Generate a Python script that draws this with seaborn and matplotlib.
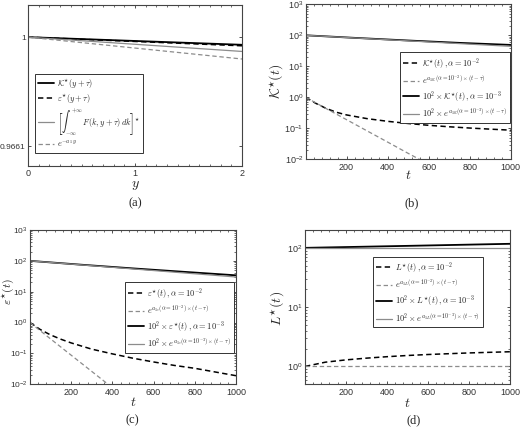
import numpy as np
import pandas as pd
import matplotlib
matplotlib.use("Agg")
import matplotlib.pyplot as plt
import seaborn as sns
from matplotlib.ticker import FixedLocator, FuncFormatter, AutoMinorLocator, LogLocator, NullFormatter

# ---------------- data ----------------
# panel (a)
y_a = [0.0, 1.0, 2.0]
K_a = [1.0, 0.99881, 0.99762]
eps_a = [1.0, 0.99866, 0.99731]
F_a = [1.0, 0.99778, 0.99555]
exp_a = [1.0, 0.99660, 0.99320]

# panel (b)
t_b_dash = [1, 50, 100, 150, 200, 300, 400, 500, 600, 700, 800, 900, 1000]
K_b_a2 = [1.0, 0.64, 0.44, 0.33, 0.27, 0.205, 0.168, 0.143, 0.125, 0.112, 0.102, 0.094, 0.087]
t_b_exp = [1, 100, 200, 300, 400, 500, 600]
exp_b_a2 = [1.0, 0.435, 0.19, 0.0826, 0.036, 0.0156, 0.0069]
t_b_sol = [1, 250, 500, 750, 1000]
K_b_a3 = [100, 82, 68, 57, 49]
exp_b_a3 = [100, 81.4, 66.3, 54.0, 44.0]

# panel (c)
t_c_dash = [1, 50, 100, 150, 200, 300, 400, 500, 600, 700, 800, 900, 1000]
eps_c_a2 = [1.0, 0.6, 0.4, 0.29, 0.22, 0.138, 0.097, 0.07, 0.053, 0.041, 0.033, 0.025, 0.019]
t_c_exp = [1, 100, 200, 300, 400]
exp_c_a2 = [1.0, 0.298, 0.0885, 0.0263, 0.0078]
t_c_sol = [1, 250, 500, 750, 1000]
eps_c_a3 = [100, 75, 57, 44, 34]
exp_c_a3 = [100, 74, 54.8, 40.5, 30]

# panel (d)
t_d_dash = [1, 100, 200, 300, 400, 500, 600, 700, 800, 900, 1000]
L_d_a2 = [1.0, 1.18, 1.29, 1.38, 1.46, 1.53, 1.59, 1.64, 1.69, 1.73, 1.77]
t_d_flat = [1, 1000]
exp_d_a2 = [1.0, 1.0]
t_d_sol = [1, 500, 1000]
L_d_a3 = [100, 108, 117]
exp_d_a3 = [100, 100]

captions = ["(a)", "(b)", "(c)", "(d)"]

# ---------------- style ----------------
sns.set_theme(style="ticks")
plt.rcParams["font.family"] = ["Liberation Sans", "DejaVu Sans"]
plt.rcParams["mathtext.fontset"] = "cm"
plt.rcParams["axes.linewidth"] = 0.8
plt.rcParams["axes.edgecolor"] = "#444444"
for k in ["xtick", "ytick"]:
    plt.rcParams[f"{k}.direction"] = "in"
    plt.rcParams[f"{k}.major.size"] = 2.5
    plt.rcParams[f"{k}.minor.size"] = 1.3
    plt.rcParams[f"{k}.major.width"] = 0.6
    plt.rcParams[f"{k}.minor.width"] = 0.5
    plt.rcParams[f"{k}.labelsize"] = 6.5
    plt.rcParams[f"{k}.color"] = "#333333"
plt.rcParams["xtick.major.pad"] = 2.5
plt.rcParams["ytick.major.pad"] = 1.6
plt.rcParams["xtick.top"] = True
plt.rcParams["ytick.right"] = True

GRAY = "#8c8c8c"
fig = plt.figure(figsize=(5.2, 4.3), dpi=100)
W, H = 520.0, 430.0

def box(l, r, t, b):
    return [l / W, 1 - b / H, (r - l) / W, (b - t) / H]

ax_a = fig.add_axes(box(28, 242, 5, 165.7))
ax_b = fig.add_axes(box(305.7, 510.7, 4.3, 159.3))
ax_c = fig.add_axes(box(30, 236, 230, 384.3))
ax_d = fig.add_axes(box(305, 510, 230, 384.3))

def line(ax, x, y, color, ls, lw, label):
    sns.lineplot(x=x, y=y, ax=ax, color=color, linestyle=ls, linewidth=lw,
                 label=label, legend=False, estimator=None, sort=False)

DASH = (0, (3.5, 2.2))

# ---- (a) ----
line(ax_a, y_a, K_a, "black", "-", 1.3, r"$\mathcal{K}^{\star}(y+\tau)$")
line(ax_a, y_a, eps_a, "black", DASH, 1.1, r"$\varepsilon^{\star}(y+\tau)$")
line(ax_a, y_a, F_a, GRAY, "-", 0.9,
     r"$\left[\int_{-\infty}^{+\infty}\,F(k,y+\tau)\,dk\right]^{\star}$")
line(ax_a, y_a, exp_a, GRAY, DASH, 0.9, r"$e^{-a_1\,y}$")
ax_a.set_xlim(0, 2)
ax_a.set_ylim(0.96, 1.01)
ax_a.xaxis.set_major_locator(FixedLocator([0, 1, 2]))
ax_a.xaxis.set_major_formatter(FuncFormatter(lambda v, p: f"{v:g}"))
ax_a.yaxis.set_major_locator(FixedLocator([0.9661, 1.0]))
ax_a.yaxis.set_major_formatter(FuncFormatter(lambda v, p: "1" if abs(v - 1) < 1e-9 else "0.9661"))
ax_a.tick_params(axis="y", labelsize=6)
ax_a.xaxis.set_minor_locator(AutoMinorLocator(10))
ax_a.set_xlabel(r"$y$", fontsize=10, labelpad=0)
ax_a.xaxis.set_label_coords(0.5, -0.075)
ax_a.set_ylabel("")

def logfmt(v, p):
    e = int(round(np.log10(v)))
    return r"$\mathregular{10^{%d}}$" % e

def setup_t(ax, ylim, ylabel, lab_x, lab_y, xlab_y, ysize=10):
    ax.set_yscale("log")
    ax.set_xlim(1, 1000)
    ax.set_ylim(*ylim)
    ax.xaxis.set_major_locator(FixedLocator([200, 400, 600, 800, 1000]))
    ax.xaxis.set_major_formatter(FuncFormatter(lambda v, p: f"{v:g}"))
    ax.xaxis.set_minor_locator(AutoMinorLocator(5))
    ax.yaxis.set_major_locator(LogLocator(base=10, numticks=10))
    ax.yaxis.set_major_formatter(FuncFormatter(logfmt))
    ax.yaxis.set_minor_locator(LogLocator(base=10, subs=np.arange(2, 10), numticks=20))
    ax.yaxis.set_minor_formatter(NullFormatter())
    ax.set_xlabel(r"$t$", fontsize=10, labelpad=0)
    ax.xaxis.set_label_coords(0.5, xlab_y)
    ax.set_ylabel(ylabel, fontsize=ysize, labelpad=0)
    ax.yaxis.set_label_coords(lab_x, lab_y)

def leg(ax, x, y, spacing):
    lg = ax.legend(loc="upper left", bbox_to_anchor=(x / W, 1 - y / H),
                   bbox_transform=fig.transFigure, fontsize=6, frameon=True,
                   fancybox=False, edgecolor="#333333", framealpha=1,
                   handlelength=1.9, handletextpad=0.3, borderpad=0.4,
                   labelspacing=spacing, borderaxespad=0)
    lg.get_frame().set_linewidth(0.7)

# ---- (b) ----
line(ax_b, t_b_dash, K_b_a2, "black", DASH, 1.1, r"$\mathcal{K}^{\star}(t)\,,\alpha=10^{-2}$")
line(ax_b, t_b_exp, exp_b_a2, GRAY, DASH, 0.9,
     r"$e^{a_{1\mathcal{K}}(\alpha=10^{-2})\times(t-\tau)}$")
line(ax_b, t_b_sol, K_b_a3, "black", "-", 1.3, r"$10^2\times\mathcal{K}^{\star}(t)\,,\alpha=10^{-3}$")
line(ax_b, t_b_sol, exp_b_a3, GRAY, "-", 0.9,
     r"$10^2\times e^{a_{1\mathcal{K}}(\alpha=10^{-3})\times(t-\tau)}$")
setup_t(ax_b, (1e-2, 1e3), r"$\mathcal{K}^{\star}(t)$", -0.096, 0.5, -0.056)

# ---- (c) ----
line(ax_c, t_c_dash, eps_c_a2, "black", DASH, 1.1, r"$\varepsilon^{\star}(t)\,,\alpha=10^{-2}$")
line(ax_c, t_c_exp, exp_c_a2, GRAY, DASH, 0.9,
     r"$e^{a_{1\varepsilon}(\alpha=10^{-2})\times(t-\tau)}$")
line(ax_c, t_c_sol, eps_c_a3, "black", "-", 1.3, r"$10^2\times\varepsilon^{\star}(t)\,,\alpha=10^{-3}$")
line(ax_c, t_c_sol, exp_c_a3, GRAY, "-", 0.9,
     r"$10^2\times e^{a_{1\varepsilon}(\alpha=10^{-3})\times(t-\tau)}$")
setup_t(ax_c, (1e-2, 1e3), r"$\varepsilon^{\star}(t)$", -0.068, 0.6, -0.07, ysize=8.5)
ax_c.tick_params(axis="y", labelsize=6)

# ---- (d) ----
line(ax_d, t_d_dash, L_d_a2, "black", DASH, 1.1, r"$L^{\star}(t)\,,\alpha=10^{-2}$")
line(ax_d, t_d_flat, exp_d_a2, GRAY, DASH, 0.9,
     r"$e^{a_{1L}(\alpha=10^{-2})\times(t-\tau)}$")
line(ax_d, t_d_sol, L_d_a3, "black", "-", 1.3, r"$10^2\times L^{\star}(t)\,,\alpha=10^{-3}$")
line(ax_d, t_d_flat, exp_d_a3, GRAY, "-", 0.9,
     r"$10^2\times e^{a_{1L}(\alpha=10^{-3})\times(t-\tau)}$")
setup_t(ax_d, (0.5, 200), r"$L^{\star}(t)$", -0.09, 0.49, -0.075)

leg(ax_a, 35, 74, 0.18)
leg(ax_b, 400, 52.3, 0.35)
leg(ax_c, 125, 282.3, 0.35)
leg(ax_d, 373, 256.7, 0.35)

for ax in [ax_a, ax_b, ax_c, ax_d]:
    for s in ax.spines.values():
        s.set_visible(True)

cap_pos = [(135, 203), (412, 203), (132, 420), (414, 420)]
for c, (cx, cy) in zip(captions, cap_pos):
    fig.text(cx / W, 1 - cy / H, c, ha="center", va="center",
             fontsize=9, family=["Liberation Serif", "DejaVu Serif"])

fig.savefig("out.png", dpi=100)
